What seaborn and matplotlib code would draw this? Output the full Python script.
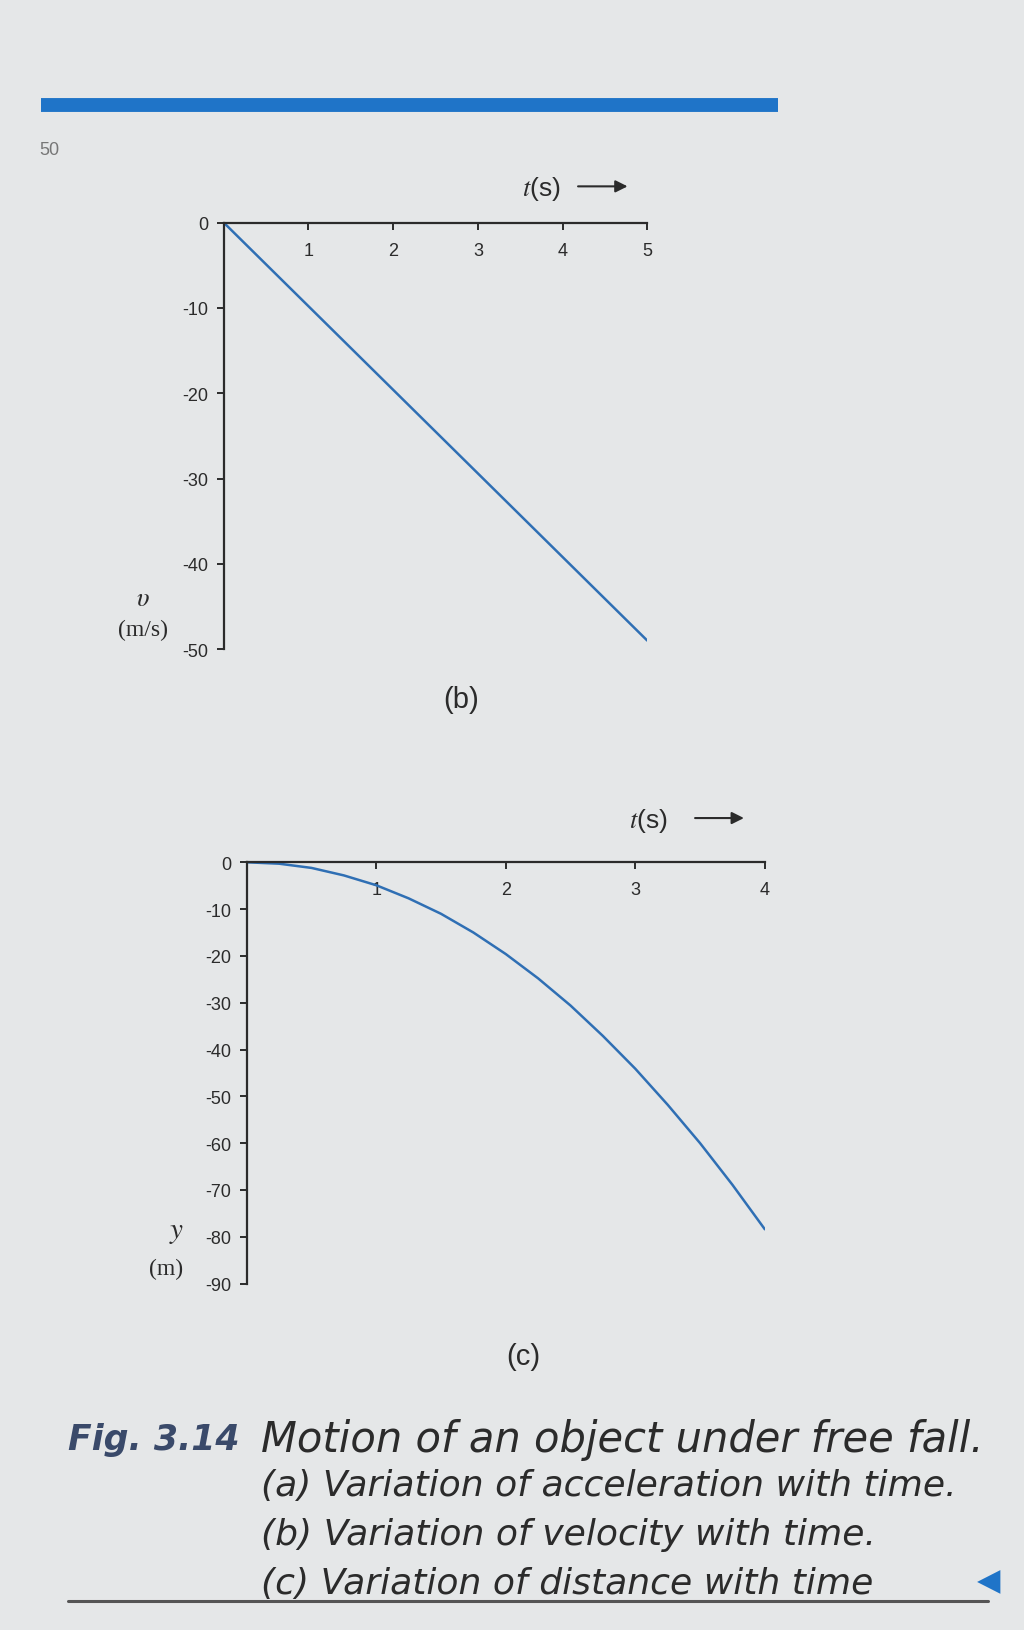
import numpy as np
import pandas as pd
import seaborn as sns
import matplotlib.pyplot as plt
from matplotlib.lines import Line2D

# values (free fall, g ~ 9.8 m/s^2)
t_acc = [0, 5]
acc = [-9.8, -9.8]

t_vel = [0, 1, 2, 3, 4, 5]
vel = [0, -9.8, -19.6, -29.4, -39.2, -49.0]
vel_ticks = [0, -10, -20, -30, -40, -50]

t_dist = [0, 0.25, 0.5, 0.75, 1, 1.25, 1.5, 1.75, 2,
          2.25, 2.5, 2.75, 3, 3.25, 3.5, 3.75, 4]
dist = [0, -0.3, -1.2, -2.8, -4.9, -7.7, -11.0, -15.0, -19.6,
        -24.8, -30.6, -37.1, -44.1, -51.8, -60.0, -68.9, -78.4]
dist_ticks = [0, -10, -20, -30, -40, -50, -60, -70, -80, -90]

caption_title = "Motion of an object under free fall."
caption_lines = ["(a) Variation of acceleration with time.",
                 "(b) Variation of velocity with time.",
                 "(c) Variation of distance with time"]

paper = "#e5e7e8"
ink = "#2b2b2b"
blue = "#2f6fb4"

sns.set_style("white")
plt.rcParams['font.family'] = ['Liberation Sans', 'DejaVu Sans']
plt.rcParams['mathtext.fontset'] = 'stix'
plt.rcParams['axes.unicode_minus'] = False

fig = plt.figure(figsize=(10.24, 16.31), dpi=100, facecolor=paper)


def style_axes(ax, xmax, ymin, yticks):
    ax.set_facecolor(paper)
    ax.set_xlim(0, xmax)
    ax.set_ylim(ymin, 0)
    ax.set_xticks(range(1, xmax + 1))
    ax.set_yticks(yticks)
    ax.set_yticklabels([str(v) for v in yticks])
    ax.set_xlabel("")
    ax.set_ylabel("")
    for side in ["right", "bottom"]:
        ax.spines[side].set_visible(False)
    for side in ["left", "top"]:
        ax.spines[side].set_color(ink)
        ax.spines[side].set_linewidth(1.6)
    ax.tick_params(axis='x', top=True, bottom=False, labeltop=True,
                   labelbottom=False, direction='in', length=5, width=1.4,
                   pad=-26, labelsize=13, colors=ink)
    ax.tick_params(axis='y', left=True, direction='out', length=5,
                   width=1.4, pad=6, labelsize=13, colors=ink)


# remnant of panel (a)
ax_a = fig.add_axes([0.04, 0.905, 0.72, 0.06])
sns.lineplot(x=t_acc, y=acc, ax=ax_a, color="#1f74c8", linewidth=10)
ax_a.set_xlim(0, 5)
ax_a.axis("off")
fig.text(0.038, 0.905, "50", fontsize=13, color="#777777")

# panel (b): velocity
ax_b = fig.add_axes([0.2185, 0.6014, 0.4136, 0.2615])
sns.lineplot(x=t_vel, y=vel, ax=ax_b, color=blue, linewidth=1.8)
style_axes(ax_b, 5, -50, vel_ticks)
ax_b.text(0.75, 1.08, "$t$(s)", transform=ax_b.transAxes, fontsize=19,
          ha='center', va='center', color=ink)
ax_b.annotate("", xy=(0.96, 1.085), xytext=(0.83, 1.085),
              xycoords='axes fraction',
              arrowprops=dict(arrowstyle='-|>', color=ink, lw=1.5,
                              mutation_scale=18))
ax_b.text(-0.19, 0.12, r"$\upsilon$", transform=ax_b.transAxes, fontsize=19,
          ha='center', va='center', color=ink)
ax_b.text(-0.19, 0.045, "(m/s)", transform=ax_b.transAxes, fontsize=17,
          ha='center', va='center', color=ink, family='Liberation Serif')
fig.text(0.45, 0.571, "(b)", fontsize=21, ha='center', va='center', color=ink)

# panel (c): distance
ax_c = fig.add_axes([0.2409, 0.2124, 0.506, 0.2583])
sns.lineplot(x=t_dist, y=dist, ax=ax_c, color=blue, linewidth=1.8)
style_axes(ax_c, 4, -90, dist_ticks)
ax_c.text(0.775, 1.1, "$t$(s)", transform=ax_c.transAxes, fontsize=19,
          ha='center', va='center', color=ink)
ax_c.annotate("", xy=(0.965, 1.105), xytext=(0.86, 1.105),
              xycoords='axes fraction',
              arrowprops=dict(arrowstyle='-|>', color=ink, lw=1.5,
                              mutation_scale=18))
ax_c.text(-0.135, 0.125, "$y$", transform=ax_c.transAxes, fontsize=21,
          ha='center', va='center', color=ink)
ax_c.text(-0.155, 0.035, "(m)", transform=ax_c.transAxes, fontsize=17,
          ha='center', va='center', color=ink, family='Liberation Serif')
fig.text(0.511, 0.168, "(c)", fontsize=21, ha='center', va='center', color=ink)

# figure caption
fig.text(0.066, 0.117, "Fig. 3.14", fontsize=25, style='italic',
         weight='bold', color="#3a4a6a", va='center', family='DejaVu Sans')
fig.text(0.255, 0.117, caption_title, fontsize=30, style='italic',
         color=ink, va='center', family='DejaVu Sans')
for i, line in enumerate(caption_lines):
    fig.text(0.255, 0.089 - i * 0.030, line, fontsize=26, style='italic',
             color=ink, va='center', family='DejaVu Sans')
fig.text(0.965, 0.03, "\u25C0", fontsize=22, color="#1f74c8",
         ha='center', va='center')
fig.add_artist(Line2D([0.066, 0.965], [0.0175, 0.0175], color="#555555",
                      lw=2.2, transform=fig.transFigure))

plt.savefig("out.png", dpi=100, facecolor=paper)
